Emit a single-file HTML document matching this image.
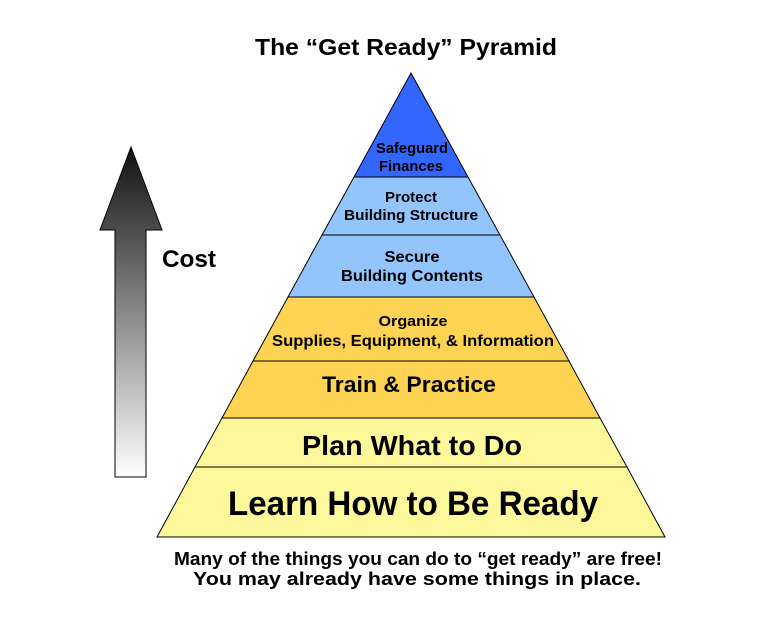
<!DOCTYPE html>
<html><head><style>
body{margin:0;background:#fff;}
svg text{font-family:"Liberation Sans",Arial,sans-serif;font-weight:bold;fill:#000;text-anchor:middle;}
</style></head><body>
<svg width="777" height="616" viewBox="0 0 777 616" xmlns="http://www.w3.org/2000/svg">
<defs>
<linearGradient id="g" x1="0" y1="0" x2="0" y2="1">
<stop offset="0" stop-color="#111"/><stop offset="1" stop-color="#fff"/>
</linearGradient>
</defs>
<text x="406" y="55" font-size="23" textLength="302" lengthAdjust="spacingAndGlyphs">The “Get Ready” Pyramid</text>
<polygon points="131,147 162,230 146,230 146,477 115,477 115,230 100,230" fill="url(#g)" stroke="#000" stroke-width="1"/>
<text x="189" y="267" font-size="24" textLength="54" lengthAdjust="spacingAndGlyphs">Cost</text>
<g stroke="#000" stroke-width="1">
<polygon points="411,73 468,177 354,177" fill="#3366ff"/>
<polygon points="354,177 468,177 500,235 322,235" fill="#93c4fb"/>
<polygon points="322,235 500,235 534,297 288,297" fill="#93c4fb"/>
<polygon points="288,297 534,297 569,361 253,361" fill="#fdd353"/>
<polygon points="253,361 569,361 600,418 222,418" fill="#fdd353"/>
<polygon points="222,418 600,418 627,467 195,467" fill="#fdf79c"/>
<polygon points="195,467 627,467 665,537 157,537" fill="#fdf79c"/>
</g>
<text x="412" y="153" font-size="14.5" textLength="72" lengthAdjust="spacingAndGlyphs">Safeguard</text>
<text x="411" y="171" font-size="14.5" textLength="64" lengthAdjust="spacingAndGlyphs">Finances</text>
<text x="411" y="202" font-size="15" textLength="52" lengthAdjust="spacingAndGlyphs">Protect</text>
<text x="411" y="220" font-size="15" textLength="134" lengthAdjust="spacingAndGlyphs">Building Structure</text>
<text x="412" y="262" font-size="16" textLength="55" lengthAdjust="spacingAndGlyphs">Secure</text>
<text x="412" y="281" font-size="16" textLength="142" lengthAdjust="spacingAndGlyphs">Building Contents</text>
<text x="413" y="326" font-size="15" textLength="69" lengthAdjust="spacingAndGlyphs">Organize</text>
<text x="413" y="346" font-size="16" textLength="282" lengthAdjust="spacingAndGlyphs">Supplies, Equipment, &amp; Information</text>
<text x="409" y="392" font-size="22" textLength="174" lengthAdjust="spacingAndGlyphs">Train &amp; Practice</text>
<text x="412" y="455" font-size="28" textLength="220" lengthAdjust="spacingAndGlyphs">Plan What to Do</text>
<text x="413" y="515" font-size="34" textLength="370" lengthAdjust="spacingAndGlyphs">Learn How to Be Ready</text>
<text x="418" y="565" font-size="18" textLength="488" lengthAdjust="spacingAndGlyphs">Many of the things you can do to “get ready” are free!</text>
<text x="417" y="585" font-size="18" textLength="448" lengthAdjust="spacingAndGlyphs">You may already have some things in place.</text>
</svg>
</body></html>
